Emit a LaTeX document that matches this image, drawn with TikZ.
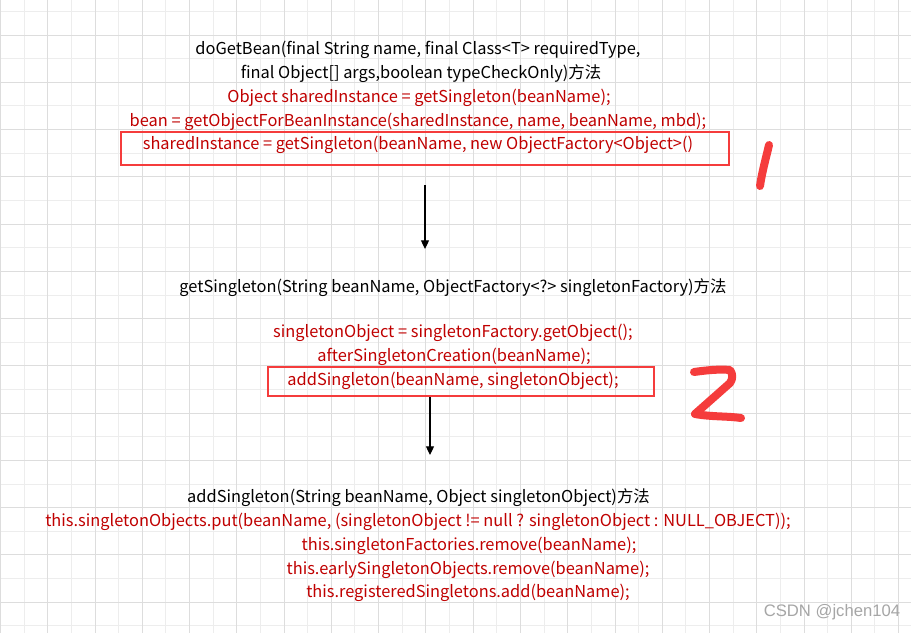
\documentclass[tikz,border=0pt]{standalone}
\usepackage{fontspec}
\setmainfont{Noto Sans CJK SC}
\newfontfamily\markfont{Liberation Sans}
\usetikzlibrary{calc}
\usetikzlibrary{arrows.meta}

\definecolor{codered}{RGB}{192,0,0}
\definecolor{boxred}{RGB}{245,60,60}

\tikzset{
  sigline/.style={black, inner sep=0pt, yshift=-1.5pt, font=\fontsize{12.3}{14}\selectfont},
  codeline/.style={codered, inner sep=0pt, yshift=-1.5pt, font=\fontsize{12.3}{14}\selectfont},
  redbox/.style={draw=boxred, line width=1.5pt, inner sep=0pt},
  flow/.style={black, line width=.9pt, -{Triangle[width=6pt,length=6.5pt]}},
  hand/.style={boxred, line width=6pt, line cap=round, line join=round},
  majorgrid/.style={gray!27, line width=.75pt},
  minorgrid/.style={gray!14, line width=.75pt}
}

\begin{document}
\begin{tikzpicture}[x=.75pt, y=-.75pt]
\useasboundingbox (0,0) rectangle (911,633);
\fill[white] (0,0) rectangle (911,633);

% grid paper
\foreach \k in {0,...,19} \draw[minorgrid] ({24.1+47.27*\k},0) -- ({24.1+47.27*\k},633);
\foreach \j in {0,...,13} \draw[minorgrid] (0,{11.4+47.27*\j}) -- (911,{11.4+47.27*\j});
\foreach \k in {0,...,19} \draw[majorgrid] ({0.5+47.27*\k},0) -- ({0.5+47.27*\k},633);
\foreach \j in {0,...,12} \draw[majorgrid] (0,{35+47.27*\j}) -- (911,{35+47.27*\j});

% doGetBean
\node[sigline] (dgbSig) at (418,48) {doGetBean(final String name, final Class<T> requiredType,};
\node[sigline] (dgbArgs) at (421,72) {final Object[] args,boolean typeCheckOnly)方法};
\node[codeline] (dgbShared) at (419,96) {Object sharedInstance = getSingleton(beanName);};
\node[codeline] (dgbBean) at (418,120) {bean = getObjectForBeanInstance(sharedInstance, name, beanName, mbd);};
\node[codeline] (dgbCall) at (418,143) {sharedInstance = getSingleton(beanName, new ObjectFactory<Object>()};
\node[redbox, minimum width=456pt, minimum height=24.75pt] (boxOne) at (425,148.5) {};

% getSingleton
\node[sigline] (gsSig) at (453,286) {getSingleton(String beanName, ObjectFactory<?> singletonFactory)方法};
\node[codeline] (gsGet) at (453,331) {singletonObject = singletonFactory.getObject();};
\node[codeline] (gsAfter) at (454,355) {afterSingletonCreation(beanName);};
\node[codeline] (gsAdd) at (453,379) {addSingleton(beanName, singletonObject);};
\node[redbox, minimum width=289.5pt, minimum height=21.75pt] (boxTwo) at (461,381.5) {};

% addSingleton
\node[sigline] (asSig) at (418.5,496) {addSingleton(String beanName, Object singletonObject)方法};
\node[codeline] (asPut) at (418,520) {this.singletonObjects.put(beanName, (singletonObject != null ? singletonObject : NULL\_OBJECT));};
\node[codeline] (asFact) at (469,544) {this.singletonFactories.remove(beanName);};
\node[codeline] (asEarly) at (468,568) {this.earlySingletonObjects.remove(beanName);};
\node[codeline] (asReg) at (468,591) {this.registeredSingletons.add(beanName);};

% arrows
\coordinate (flowOneTop) at (425,185);
\coordinate (flowOneEnd) at (425,249);
\coordinate (flowTwoEnd) at (430,455);
\draw[flow] (flowOneTop) -- (flowOneEnd);
\draw[flow] (boxTwo.south -| flowTwoEnd) -- (flowTwoEnd);

% hand written marks
\draw[hand] (769,145) .. controls (766,158) and (762,172) .. (760,186);
\draw[hand] (694,372) .. controls (708,370) and (720,369) .. (730,370) .. controls (733,374) and (733,379) .. (730,383) -- (695,414) .. controls (712,417) and (728,416) .. (741,418);

\node[gray!70, inner sep=0pt, font=\markfont\fontsize{12.5}{14}\selectfont] (csdnMark) at (832,612) {CSDN @jchen104};
\end{tikzpicture}
\end{document}
